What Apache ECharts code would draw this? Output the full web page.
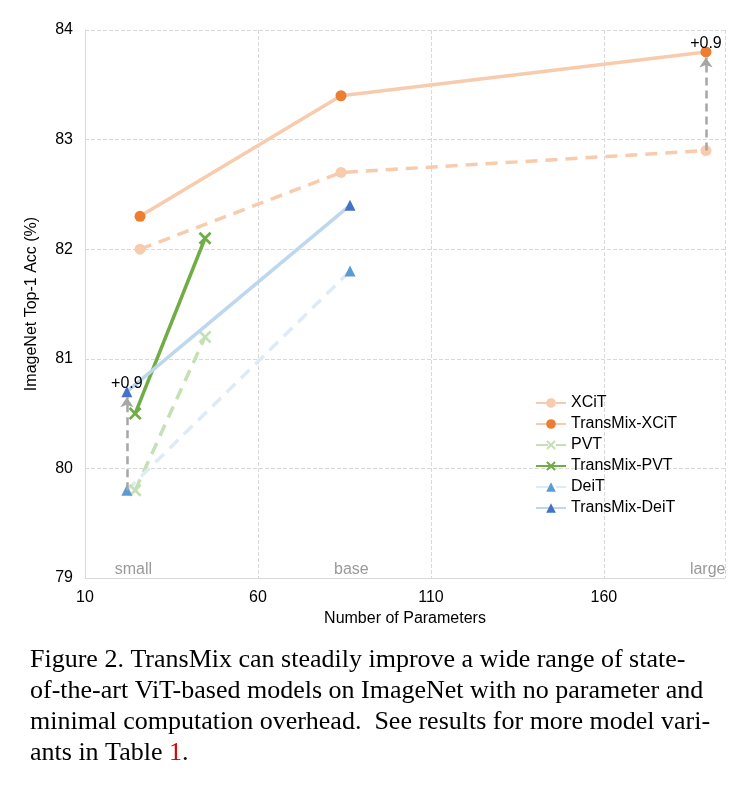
<!DOCTYPE html>
<html>
<head>
<meta charset="utf-8">
<script src="https://cdn.jsdelivr.net/npm/echarts@6/dist/echarts.min.js"></script>
<style>html,body{margin:0;padding:0;background:#fff}#chart{width:748px;height:793px}</style>
</head>
<body>
<div id="chart"></div>
<script>
// parameter counts (M) per model size
const xcitParams = [25.9, 84, 189.5];
const pvtParams = [24.5, 44.7];
const deitParams = [22.1, 86.6];

const xcit = [82.0, 82.7, 82.9];
const transmixXcit = [82.3, 83.4, 83.8];
const pvt = [79.8, 81.2];
const transmixPvt = [80.5, 82.1];
const deit = [79.8, 81.8];
const transmixDeit = [80.7, 82.4];

const sizeLabels = ['small', 'base', 'large'];
const sizeX = [24, 87, 190];

const pair = (xs, ys) => xs.map((x, i) => [x, ys[i]]);
const CROSS = 'path://M0,1.5 L1.5,0 L5,3.5 L8.5,0 L10,1.5 L6.5,5 L10,8.5 L8.5,10 L5,6.5 L1.5,10 L0,8.5 L3.5,5Z';

const chart = echarts.init(document.getElementById('chart'));

function mkSeries(name, xs, ys, symbol, markerColor, lineColor, dashed, width) {
    return {
        name: name, type: 'line', data: pair(xs, ys),
        symbol: symbol, symbolSize: symbol === CROSS ? 13 : 11,
        itemStyle: { color: markerColor },
        lineStyle: { color: lineColor, width: width, type: dashed ? [12, 8] : 'solid' },
        z: dashed ? 2 : 3
    };
}

const arrowMark = (x, y0, y1) => ({
    silent: true, symbol: ['none', 'arrow'], symbolSize: 10,
    lineStyle: { color: '#a6a6a6', type: [8, 5], width: 2.5 },
    label: { show: true, position: 'end', formatter: '+0.9', color: '#000', fontSize: 16, distance: 6 },
    data: [[{ coord: [x, y0] }, { coord: [x, y1] }]]
});

const series = [
    mkSeries('XCiT', xcitParams, xcit, 'circle', '#f8cbad', '#f8cbad', true, 3.5),
    mkSeries('TransMix-XCiT', xcitParams, transmixXcit, 'circle', '#ed7d31', '#f8cbad', false, 3.5),
    mkSeries('PVT', pvtParams, pvt, CROSS, '#c5e0b4', '#c5e0b4', true, 3.5),
    mkSeries('TransMix-PVT', pvtParams, transmixPvt, CROSS, '#70ad47', '#70ad47', false, 3.5),
    mkSeries('DeiT', deitParams, deit, 'triangle', '#5b9bd5', '#deebf7', true, 3.5),
    mkSeries('TransMix-DeiT', deitParams, transmixDeit, 'triangle', '#4472c4', '#bdd7ee', false, 3.5)
];
series[0].markLine = arrowMark(xcitParams[2], xcit[2], transmixXcit[2] - 0.05);
series[4].markLine = arrowMark(deitParams[0], deit[0], transmixDeit[0] - 0.05);
series.push({
    type: 'scatter', symbolSize: 0, silent: true,
    data: sizeX.map((x, i) => ({ value: [x, 79.08], name: sizeLabels[i] })),
    label: { show: true, position: 'inside', formatter: p => p.name, color: '#7f7f7f', fontSize: 16 }
});

chart.setOption({
    animation: false,
    textStyle: { fontFamily: 'Liberation Sans, Arial, sans-serif' },
    grid: { left: 85, right: 23, top: 30, bottom: 215 },
    legend: {
        data: series.slice(0, 6).map(s => s.name), orient: 'vertical',
        left: 530, top: 390, itemGap: 5, itemWidth: 30, itemHeight: 12,
        textStyle: { fontSize: 16, color: '#000' }
    },
    xAxis: {
        type: 'value', min: 10, max: 195, interval: 50,
        name: 'Number of Parameters', nameLocation: 'middle', nameGap: 32,
        nameTextStyle: { fontSize: 16, color: '#000' },
        axisLine: { lineStyle: { color: '#d9d9d9' } }, axisTick: { show: false },
        axisLabel: { fontSize: 16, color: '#000', showMaxLabel: false, margin: 12 },
        splitLine: { lineStyle: { type: 'dashed', color: '#d9d9d9' } }
    },
    yAxis: {
        type: 'value', min: 79, max: 84, interval: 1,
        name: 'ImageNet Top-1 Acc (%)', nameLocation: 'middle', nameGap: 45,
        nameTextStyle: { fontSize: 16, color: '#000' },
        axisLine: { show: true, lineStyle: { color: '#d9d9d9' } }, axisTick: { show: false },
        axisLabel: { fontSize: 16, color: '#000', margin: 12 },
        splitLine: { lineStyle: { type: 'dashed', color: '#d9d9d9' } }
    },
    series: series,
    graphic: [{
        type: 'text', left: 30, top: 645,
        style: {
            text: 'Figure 2. TransMix can steadily improve a wide range of state-\nof-the-art ViT-based models on ImageNet with no parameter and\nminimal computation overhead.  See results for more model vari-\nants in Table {r|1}.',
            font: '26px "Liberation Serif", "DejaVu Serif", serif',
            lineHeight: 31, fill: '#000',
            rich: { r: { fill: '#e00000', font: '26px "Liberation Serif", serif' } }
        }
    }]
});
</script>
</body>
</html>
